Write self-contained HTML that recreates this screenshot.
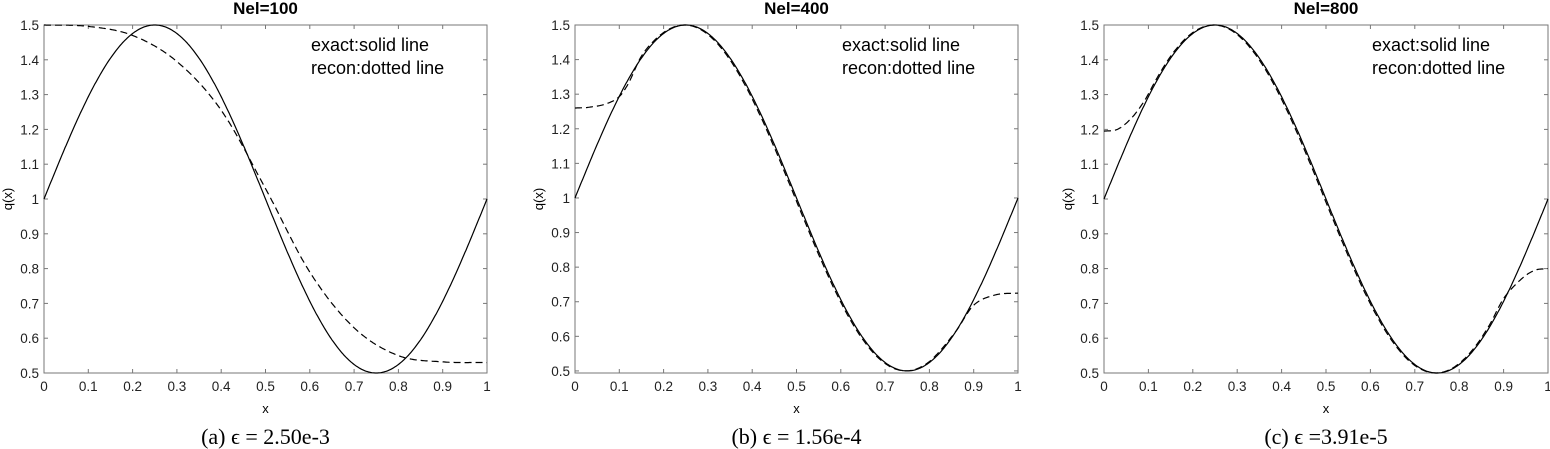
<!DOCTYPE html>
<html><head><meta charset="utf-8"><style>
body{margin:0;background:#fff;}
svg{display:block;}
</style></head><body>
<svg id="s" width="1550" height="449" xmlns="http://www.w3.org/2000/svg" font-family="Liberation Sans, sans-serif"></svg>
<script>
const S=document.getElementById('s');
let h='';
const ex=x=>1+0.5*Math.sin(2*Math.PI*x);
function cr(pts){
  return function(x){
    let i=0;while(i<pts.length-2&&x>pts[i+1][0])i++;
    const p0=pts[Math.max(i-1,0)],p1=pts[i],p2=pts[i+1],p3=pts[Math.min(i+2,pts.length-1)];
    const t=(x-p1[0])/(p2[0]-p1[0]);
    const m1=(p2[1]-p0[1])/(p2[0]-p0[0])*(p2[0]-p1[0]);
    const m2=(p3[1]-p1[1])/(p3[0]-p1[0])*(p2[0]-p1[0]);
    const t2=t*t,t3=t2*t;
    return (2*t3-3*t2+1)*p1[1]+(t3-2*t2+t)*m1+(-2*t3+3*t2)*p2[1]+(t3-t2)*m2;
  };
}
const d1=cr([[0,1.5],[0.1,1.496],[0.2,1.47],[0.3,1.395],[0.4,1.255],[0.5,1.03],[0.6,0.79],[0.7,0.63],[0.8,0.55],[0.9,0.532],[1,0.53]]);
const ex2=x=>1+0.5*Math.sin(2*Math.PI*(x+0.003));
const d2pts=[[0,1.26],[0.03,1.262],[0.07,1.272],[0.1,1.293],[0.12,1.33]];
for(let x=0.15;x<=0.83;x+=0.03)d2pts.push([x,ex2(x)]);
d2pts.push([0.86,0.615],[0.9,0.69],[0.95,0.72],[1,0.725]);
const d2=cr(d2pts);
const d3pts=[[0,1.195],[0.03,1.2],[0.06,1.23],[0.09,1.28]];
for(let x=0.12;x<=0.91;x+=0.03)d3pts.push([x,ex2(x)]);
d3pts.push([0.94,0.77],[0.97,0.795],[1,0.80]);
const d3=cr(d3pts);
const P=[
 {l:44,r:487,t:25,b:373,y0:0.5,y1:1.5,title:'Nel=100',d:d1,cap:'(a) ϵ = 2.50e-3'},
 {l:575,r:1018,t:25,b:373,y0:0.494,y1:1.5,title:'Nel=400',d:d2,cap:'(b) ϵ = 1.56e-4'},
 {l:1104,r:1548,t:25,b:373,y0:0.5,y1:1.5,title:'Nel=800',d:d3,cap:'(c) ϵ =3.91e-5'}];
for(const p of P){
 const X=x=>p.l+(p.r-p.l)*x, Y=y=>p.b-(p.b-p.t)*(y-p.y0)/(p.y1-p.y0);
 h+=`<rect x="${p.l}" y="${p.t}" width="${p.r-p.l}" height="${p.b-p.t}" fill="none" stroke="#777" stroke-width="1"/>`;
 for(let i=0;i<=10;i++){
  const x=X(i/10);
  h+=`<line x1="${x}" y1="${p.b}" x2="${x}" y2="${p.b-4}" stroke="#777"/><line x1="${x}" y1="${p.t}" x2="${x}" y2="${p.t+4}" stroke="#777"/>`;
  h+=`<text x="${x}" y="${p.b+18}" font-size="13.5" text-anchor="middle" fill="#222">${i==0?'0':i==10?'1':'0.'+i}</text>`;
  const yv=0.5+i/10,y=Y(yv);
  h+=`<line x1="${p.l}" y1="${y}" x2="${p.l+4}" y2="${y}" stroke="#777"/><line x1="${p.r}" y1="${y}" x2="${p.r-4}" y2="${y}" stroke="#777"/>`;
  const lab=(i==5?'1':yv.toFixed(1));
  h+=`<text x="${p.l-5}" y="${y+5}" font-size="13.5" text-anchor="end" fill="#222">${lab}</text>`;
 }
 let a='',b='';
 for(let i=0;i<=400;i++){const x=i/400;a+=(i?'L':'M')+X(x).toFixed(1)+','+Y(ex(x)).toFixed(1);b+=(i?'L':'M')+X(x).toFixed(1)+','+Y(p.d(x)).toFixed(1);}
 h+=`<path d="${a}" fill="none" stroke="#000" stroke-width="1.2"/>`;
 h+=`<path d="${b}" fill="none" stroke="#000" stroke-width="1.2" stroke-dasharray="7,4"/>`;
 const c=(p.l+p.r)/2;
 h+=`<text x="${c}" y="14" font-size="17" font-weight="bold" text-anchor="middle">${p.title}</text>`;
 h+=`<text x="${p.r-176}" y="51" font-size="18">exact:solid line</text>`;
 h+=`<text x="${p.r-176}" y="74" font-size="18">recon:dotted line</text>`;
 h+=`<text x="${c}" y="413" font-size="13" text-anchor="middle">x</text>`;
 h+=`<text x="${c}" y="444" font-size="22" text-anchor="middle" font-family="Liberation Serif, serif">${p.cap}</text>`;
 h+=`<text transform="translate(${p.l-32},${(p.t+p.b)/2}) rotate(-90)" font-size="13" text-anchor="middle">q(x)</text>`;
}
S.innerHTML=h;
</script>
</body></html>
